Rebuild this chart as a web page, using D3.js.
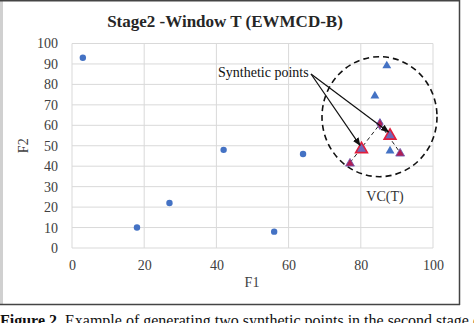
<!DOCTYPE html>
<html><head><meta charset="utf-8">
<script src="https://cdn.jsdelivr.net/npm/d3@7"></script>
<style>body{margin:0;background:#fff;overflow:hidden}svg{display:block}</style>
</head><body>
<svg id="c" width="474" height="323"></svg>
<script>
// ---- data ----
const title = "Stage2 -Window T (EWMCD-B)";
const xTicks = [0, 20, 40, 60, 80, 100];
const yTicks = [0, 10, 20, 30, 40, 50, 60, 70, 80, 90, 100];
const circlesX = [3, 18, 27, 42, 56, 64];
const circlesY = [93, 10, 22, 48, 8, 46];
const blueTriX = [87.2, 83.9, 88.1];
const blueTriY = [89.5, 74.8, 47.9];
const baseTriX = [77, 90.9];
const baseTriY = [41.7, 46.6];
const centerX = [85.3];
const centerY = [60.6];
const synthX = [80.2, 88.1];
const synthY = [48.7, 55.3];
const annoLabel = "Synthetic points";
const circleLabel = "VC(T)";
const caption = ["Figure 2.", " Example of generating two synthetic points in the second stage of EWMCD-B"];

const svg = d3.select("#c");
const font = "'Liberation Serif','Times New Roman',serif";

// frame
svg.append("rect").attr("x",0).attr("y",0).attr("width",3).attr("height",305).attr("fill","#d0d0d0");
svg.append("line").attr("x1",0).attr("x2",460).attr("y1",0.75).attr("y2",0.75).attr("stroke","#444").attr("stroke-width",1.5);
svg.append("line").attr("x1",459.5).attr("x2",459.5).attr("y1",0).attr("y2",305).attr("stroke","#444").attr("stroke-width",1.5);
svg.append("line").attr("x1",0).attr("x2",460).attr("y1",304.5).attr("y2",304.5).attr("stroke","#444").attr("stroke-width",1.5);

const x = d3.scaleLinear().domain([0,100]).range([72,433]);
const y = d3.scaleLinear().domain([0,100]).range([248,43.5]);

// gridlines
const g = svg.append("g");
g.selectAll(".vg").data(xTicks).join("line")
  .attr("x1",d=>x(d)).attr("x2",d=>x(d)).attr("y1",y(0)).attr("y2",y(100))
  .attr("stroke","#d9d9d9").attr("stroke-width",1);
g.selectAll(".hg").data(yTicks).join("line")
  .attr("x1",x(0)).attr("x2",x(100)).attr("y1",d=>y(d)).attr("y2",d=>y(d))
  .attr("stroke","#d9d9d9").attr("stroke-width",1);

// axes via d3
const xa = svg.append("g").attr("transform",`translate(0,${y(0)})`)
  .call(d3.axisBottom(x).tickValues(xTicks).tickSize(0).tickPadding(12));
const ya = svg.append("g").attr("transform",`translate(${x(0)},0)`)
  .call(d3.axisLeft(y).tickValues(yTicks).tickSize(0).tickPadding(14));
[xa,ya].forEach(a=>{a.select(".domain").remove();
  a.selectAll("text").attr("font-family",font).attr("font-size",14).attr("fill","#404040");});

// titles
svg.append("text").attr("x",225).attr("y",27).attr("text-anchor","middle")
  .attr("font-family",font).attr("font-size",17).attr("font-weight","bold").attr("fill","#262626").text(title);
svg.append("text").attr("x",252).attr("y",287).attr("text-anchor","middle")
  .attr("font-family",font).attr("font-size",14).attr("fill","#404040").text("F1");
svg.append("text").attr("transform",`translate(28,${y(50)}) rotate(-90)`).attr("text-anchor","middle")
  .attr("font-family",font).attr("font-size",14).attr("fill","#404040").text("F2");

// dashed ellipse
svg.append("ellipse").attr("cx",379.5).attr("cy",116.7).attr("rx",57.5).attr("ry",60)
  .attr("fill","none").attr("stroke","#111").attr("stroke-width",1.6).attr("stroke-dasharray","6,4");

// dashed connecting lines
const segs = [[baseTriX[0],baseTriY[0],centerX[0],centerY[0]],[centerX[0],centerY[0],baseTriX[1],baseTriY[1]]];
svg.selectAll(".seg").data(segs).join("line")
  .attr("x1",d=>x(d[0])).attr("y1",d=>y(d[1])).attr("x2",d=>x(d[2])).attr("y2",d=>y(d[3]))
  .attr("stroke","#222").attr("stroke-width",1).attr("stroke-dasharray","4,3");

// circles
svg.selectAll(".pt").data(circlesX.map((v,i)=>[v,circlesY[i]])).join("circle")
  .attr("cx",d=>x(d[0])).attr("cy",d=>y(d[1])).attr("r",3.2).attr("fill","#4472C4");

const tri = d3.symbol().type(d3.symbolTriangle);
svg.selectAll(".bt").data(blueTriX.map((v,i)=>[v,blueTriY[i]])).join("path")
  .attr("d",tri.size(34)).attr("transform",d=>`translate(${x(d[0])},${y(d[1])+0.8})`).attr("fill","#4472C4");
svg.selectAll(".pt2").data(baseTriX.map((v,i)=>[v,baseTriY[i]])).join("path")
  .attr("d",tri.size(34)).attr("transform",d=>`translate(${x(d[0])},${y(d[1])+0.8})`)
  .attr("fill","#B01E55").attr("stroke","#6A5AB0").attr("stroke-width",0.8);
svg.selectAll(".dm").data(centerX.map((v,i)=>[v,centerY[i]])).join("path")
  .attr("d",d3.symbol().type(d3.symbolDiamond).size(34)).attr("transform",d=>`translate(${x(d[0])},${y(d[1])})`)
  .attr("fill","#B01E55").attr("stroke","#6A5AB0").attr("stroke-width",1);
svg.selectAll(".sy").data(synthX.map((v,i)=>[v,synthY[i]])).join("path")
  .attr("d",tri.size(60)).attr("transform",d=>`translate(${x(d[0])},${y(d[1])+0.8})`)
  .attr("fill","#6F68B8").attr("stroke","#E01E3C").attr("stroke-width",1.6);

// arrows
const defs = svg.append("defs");
defs.append("marker").attr("id","ah").attr("viewBox","0 0 10 10").attr("refX",9).attr("refY",5)
  .attr("markerWidth",7).attr("markerHeight",7).attr("orient","auto-start-reverse")
  .append("path").attr("d","M0,1 L10,5 L0,9 Z").attr("fill","#111");
svg.selectAll(".ar").data(synthX.map((v,i)=>[v,synthY[i]])).join("line")
  .attr("x1",311).attr("y1",74).attr("x2",d=>x(d[0])-1.5).attr("y2",d=>y(d[1])-3)
  .attr("stroke","#111").attr("stroke-width",1.2).attr("marker-end","url(#ah)");

svg.append("text").attr("x",218).attr("y",77).attr("font-family",font).attr("font-size",14)
  .attr("fill","#111").text(annoLabel);
svg.append("text").attr("x",385).attr("y",201).attr("text-anchor","middle").attr("font-family",font)
  .attr("font-size",14).attr("fill","#333").text(circleLabel);

// caption (cut off at bottom)
const cap = svg.append("text").attr("x",0).attr("y",326).attr("font-family",font).attr("font-size",16).attr("fill","#111");
cap.append("tspan").attr("font-weight","bold").text(caption[0]);
cap.append("tspan").text(caption[1]);
</script>
</body></html>
